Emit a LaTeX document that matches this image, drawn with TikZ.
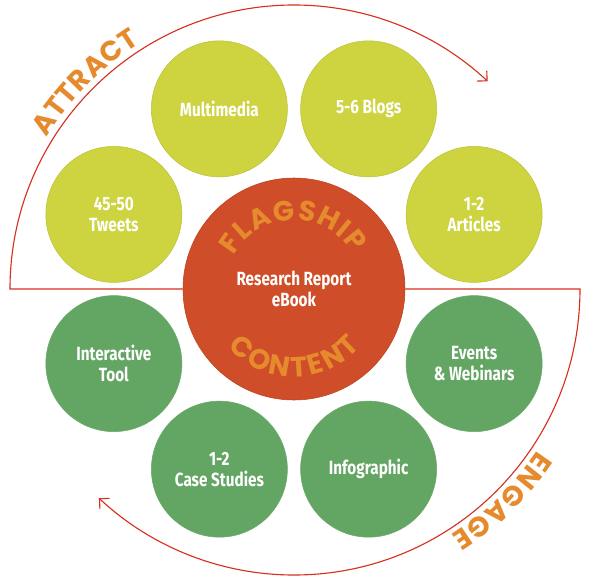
\documentclass[tikz,border=0pt]{standalone}
\usepackage{fontspec}
\usetikzlibrary{arrows.meta,decorations.text}
\newfontfamily\bubblefont[FakeStretch=0.8]{Fira Sans}
\newfontfamily\curvefont{Poppins}
\definecolor{attractfill}{HTML}{CDD440}
\definecolor{engagefill}{HTML}{63A563}
\definecolor{flagfill}{HTML}{CF4D28}
\definecolor{curvetext}{HTML}{E68A2E}
\definecolor{cycleline}{HTML}{D7301F}
\tikzset{
  attractnode/.style={circle, fill=attractfill, draw=attractfill!92!black, line width=0.4pt, minimum size=3.4cm, inner sep=0pt, align=center, text=white, font=\bubblefont\bfseries\fontsize{13.6}{15}\selectfont},
  engagenode/.style={attractnode, fill=engagefill, draw=engagefill!95!white},
  flagnode/.style={attractnode, fill=flagfill, draw=flagfill!90!black, minimum size=5.55cm},
  cyclearrow/.style={-{Straight Barb[length=1.8mm, width=3.6mm]}, line width=0.8pt, cycleline},
  curvelabel/.style={decorate, decoration={text along path, text align={fit to path}, text color=curvetext,
    text={|\curvefont\bfseries\fontsize{20pt}{20pt}\selectfont|#1}}}
}

\begin{document}
\begin{tikzpicture}
  \useasboundingbox (-7.35,-7.375) rectangle (7.4,7.225);
  % flagship and the two halves
  \node[flagnode] (flag) at (0,0) {Research Report\\eBook};
  \node[attractnode] (tweets) at (157.5:4.875) {45-50\\Tweets};
  \node[attractnode] (media) at (112.5:4.875) {Multimedia};
  \node[attractnode] (blogs) at (67.5:4.875) {5-6 Blogs};
  \node[attractnode] (articles) at (22.5:4.875) {1-2\\Articles};
  \node[engagenode] (tool) at (202.5:4.875) {Interactive\\Tool};
  \node[engagenode] (cases) at (247.5:4.875) {1-2\\Case Studies};
  \node[engagenode] (info) at (292.5:4.875) {Infographic};
  \node[engagenode] (events) at (337.5:4.875) {Events\\\& Webinars};
  \coordinate (attractstart) at (-7.1,0);
  \coordinate (engagestart) at (7.15,0);
  \draw[cyclearrow] (flag.west) -- (attractstart) arc[start angle=180, end angle=47, radius=7.1cm];
  \draw[cyclearrow] (flag.east) -- (engagestart) arc[start angle=0, end angle=-133, radius=7.15cm];
  % curved words
  \path[curvelabel=ATTRACT] (148.5:7.25) arc[start angle=148.5, end angle=122, radius=7.25cm];
  \path[curvelabel=ENGAGE] (-33.5:7.3) arc[start angle=-33.5, end angle=-57.5, radius=7.3cm];
  \path[curvelabel=FLAGSHIP] (151:1.72) arc[start angle=151, end angle=31, radius=1.72cm];
  \path[curvelabel=CONTENT] (-139:2.2) arc[start angle=-139, end angle=-41, radius=2.2cm];
\end{tikzpicture}
\end{document}
